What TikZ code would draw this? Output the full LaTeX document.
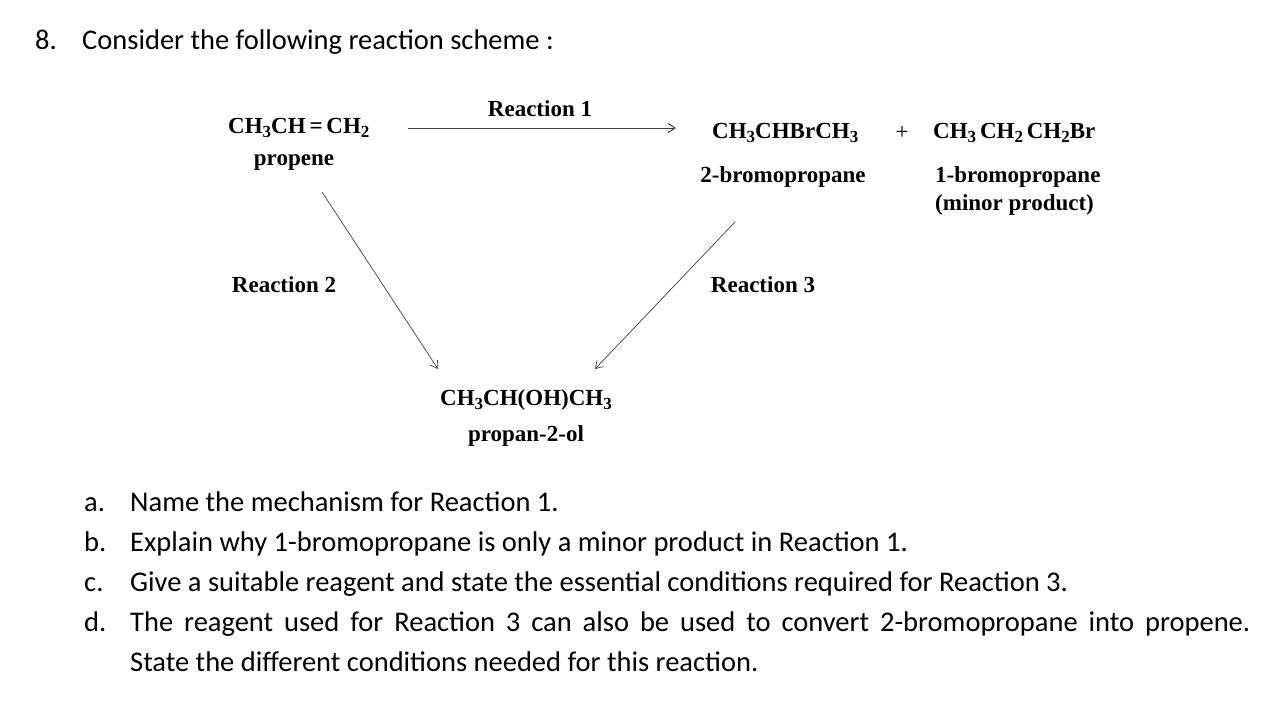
\documentclass[tikz,border=0pt]{standalone}
\usepackage{fontspec}
\setmainfont{Carlito}
\newfontfamily\chem{Liberation Serif}
\usetikzlibrary{arrows.meta}
\newcommand{\sub}[1]{\raisebox{-0.35ex}{\fontsize{17}{20}\selectfont #1}}
\begin{document}
\begin{tikzpicture}[x=1pt,y=-1pt,
  q/.style={font=\fontsize{28.5}{32}\selectfont,anchor=base west,inner sep=0},
  ch/.style={font=\chem\bfseries\fontsize{23}{27}\selectfont,inner sep=0},
  arr/.style={draw=black!75,line width=0.7pt,-{Straight Barb[length=7pt,width=9pt]}}]
\useasboundingbox (0,0) rectangle (1274,720);
\node[q] (n8) at (35,49) {8.};
\node[q] (t0) at (82,49) {Consider the following reaction scheme :};
\node[ch,anchor=west] (pr) at (228,128) {CH\sub{3}CH\,=\,CH\sub{2}};
\node[ch] (prn) at (294,162) {propene};
\coordinate (a1s) at (408,128);
\coordinate (a1e) at (676,128);
\draw[arr,line width=1pt] (a1s) -- (a1e);
\node[ch] (r1) at (540,109) {Reaction 1};
\node[ch,anchor=west] (bp2) at (712,133) {CH\sub{3}CHBrCH\sub{3}};
\node[ch] (plus) at (902,133) {\mdseries +};
\node[ch,anchor=west] (bp1) at (933,133) {CH\sub{3}\,CH\sub{2}\,CH\sub{2}Br};
\node[ch] (bp2n) at (783,177) {2-bromopropane};
\node[ch,anchor=west] (bp1n) at (935,177) {1-bromopropane};
\node[ch,anchor=west] (minor) at (935,205) {(minor product)};
\node[ch] (r2) at (284,285) {Reaction 2};
\node[ch] (r3) at (763,285) {Reaction 3};
\node[ch] (ol) at (526,400) {CH\sub{3}CH(OH)CH\sub{3}};
\node[ch] (oln) at (526,436) {propan-2-ol};
\coordinate (a2s) at (322,192);
\coordinate (a2e) at (438,369);
\coordinate (a3s) at (735,222);
\coordinate (a3e) at (595,369);
\draw[arr] (a2s) -- (a2e);
\draw[arr] (a3s) -- (a3e);
\node[q] (la) at (84,511) {a.};
\node[q] (ta) at (130,511) {Name the mechanism for Reaction 1.};
\node[q] (lb) at (84,551) {b.};
\node[q] (tb) at (130,551) {Explain why 1-bromopropane is only a minor product in Reaction 1.};
\node[q] (lc) at (84,591) {c.};
\node[q] (tc) at (130,591) {Give a suitable reagent and state the essential conditions required for Reaction 3.};
\node[q] (ld) at (84,631) {d.};
\node[q] (td) at (130,631) {\makebox[1120pt][s]{The reagent used for Reaction 3 can also be used to convert 2-bromopropane into propene.}};
\node[q] (te) at (130,671) {State the different conditions needed for this reaction.};
\end{tikzpicture}
\end{document}
